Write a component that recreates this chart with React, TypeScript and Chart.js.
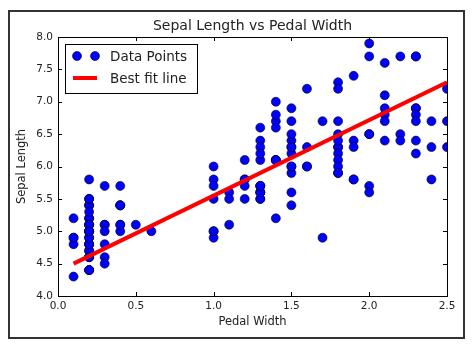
import React, { useEffect, useRef } from "react";
import { Chart, registerables } from "chart.js";

Chart.register(...registerables);

const titleText = "Sepal Length vs Pedal Width";
const xLabel = "Pedal Width";
const yLabel = "Sepal Length";
const legendLabels = ["Data Points", "Best fit line"];

// Petal width (x) of each sample
const petalWidth = [
  0.2, 0.2, 0.2, 0.2, 0.2, 0.4, 0.3, 0.2, 0.2, 0.1, 0.2, 0.2, 0.1, 0.1, 0.2, 0.4, 0.4, 0.3, 0.3, 0.3,
  0.2, 0.4, 0.2, 0.5, 0.2, 0.2, 0.4, 0.2, 0.2, 0.2, 0.2, 0.4, 0.1, 0.2, 0.2, 0.2, 0.2, 0.1, 0.2, 0.2,
  0.3, 0.3, 0.2, 0.6, 0.4, 0.3, 0.2, 0.2, 0.2, 0.2,
  1.4, 1.5, 1.5, 1.3, 1.5, 1.3, 1.6, 1.0, 1.3, 1.4, 1.0, 1.5, 1.0, 1.4, 1.3, 1.4, 1.5, 1.0, 1.5, 1.1,
  1.8, 1.3, 1.5, 1.2, 1.3, 1.4, 1.4, 1.7, 1.5, 1.0, 1.1, 1.0, 1.2, 1.6, 1.5, 1.6, 1.5, 1.3, 1.3, 1.3,
  1.2, 1.4, 1.2, 1.0, 1.3, 1.2, 1.3, 1.3, 1.1, 1.3,
  2.5, 1.9, 2.1, 1.8, 2.2, 2.1, 1.7, 1.8, 1.8, 2.5, 2.0, 1.9, 2.1, 2.0, 2.4, 2.3, 1.8, 2.2, 2.3, 1.5,
  2.3, 2.0, 2.0, 1.8, 2.1, 1.8, 1.8, 1.8, 2.1, 1.6, 1.9, 2.0, 2.2, 1.5, 1.4, 2.3, 2.4, 1.8, 1.8, 2.1,
  2.4, 2.3, 1.9, 2.3, 2.5, 2.3, 1.9, 2.0, 2.3, 1.8,
];

// Sepal length (y) of each sample
const sepalLength = [
  5.1, 4.9, 4.7, 4.6, 5.0, 5.4, 4.6, 5.0, 4.4, 4.9, 5.4, 4.8, 4.8, 4.3, 5.8, 5.7, 5.4, 5.1, 5.7, 5.1,
  5.4, 5.1, 4.6, 5.1, 4.8, 5.0, 5.0, 5.2, 5.2, 4.7, 4.8, 5.4, 5.2, 5.5, 4.9, 5.0, 5.5, 4.9, 4.4, 5.1,
  5.0, 4.5, 4.4, 5.0, 5.1, 4.8, 5.1, 4.6, 5.3, 5.0,
  7.0, 6.4, 6.9, 5.5, 6.5, 5.7, 6.3, 4.9, 6.6, 5.2, 5.0, 5.9, 6.0, 6.1, 5.6, 6.7, 5.6, 5.8, 6.2, 5.6,
  5.9, 6.1, 6.3, 6.1, 6.4, 6.6, 6.8, 6.7, 6.0, 5.7, 5.5, 5.5, 5.8, 6.0, 5.4, 6.0, 6.7, 6.3, 5.6, 5.5,
  5.5, 6.1, 5.8, 5.0, 5.6, 5.7, 5.7, 6.2, 5.1, 5.7,
  6.3, 5.8, 7.1, 6.3, 6.5, 7.6, 4.9, 7.3, 6.7, 7.2, 6.5, 6.4, 6.8, 5.7, 5.8, 6.4, 6.5, 7.7, 7.7, 6.0,
  6.9, 5.6, 7.7, 6.3, 6.7, 7.2, 6.2, 6.1, 6.4, 7.2, 7.4, 7.9, 6.4, 6.3, 6.1, 7.7, 6.3, 6.4, 6.0, 6.9,
  6.7, 6.9, 5.8, 6.8, 6.7, 6.7, 6.3, 6.5, 6.2, 5.9,
];

// Best-fit line end points
const fitX = [0.1, 2.5];
const fitY = [4.5, 7.3];

const xTicks = [0, 0.5, 1.0, 1.5, 2.0, 2.5];
const yTicks = [4.0, 4.5, 5.0, 5.5, 6.0, 6.5, 7.0, 7.5, 8.0];

const FONT = "'DejaVu Sans', sans-serif";
const POINT_COLOR = "#0000ff";
const LINE_COLOR = "#ff0000";

const decorPlugin = {
  id: "decor",
  beforeDraw(chart: any) {
    const ctx = chart.ctx;
    ctx.save();
    ctx.fillStyle = "#ffffff";
    ctx.fillRect(0, 0, chart.width, chart.height);
    ctx.restore();
  },
  afterDraw(chart: any) {
    const ctx = chart.ctx;
    const a = chart.chartArea;
    const xs = chart.scales.x;
    const ys = chart.scales.y;
    ctx.save();
    // outer frame
    ctx.strokeStyle = "#333333";
    ctx.lineWidth = 2;
    ctx.strokeRect(9, 11, 455, 327);
    // axes box
    ctx.strokeStyle = "#000000";
    ctx.lineWidth = 1;
    ctx.strokeRect(Math.round(a.left) + 0.5, Math.round(a.top) + 0.5, Math.round(a.right - a.left), Math.round(a.bottom - a.top));
    // inward ticks
    const tl = 4;
    ctx.beginPath();
    xTicks.forEach((v) => {
      const px = Math.round(xs.getPixelForValue(v)) + 0.5;
      ctx.moveTo(px, a.bottom);
      ctx.lineTo(px, a.bottom - tl);
      ctx.moveTo(px, a.top);
      ctx.lineTo(px, a.top + tl);
    });
    yTicks.forEach((v) => {
      const py = Math.round(ys.getPixelForValue(v)) + 0.5;
      ctx.moveTo(a.left, py);
      ctx.lineTo(a.left + tl, py);
      ctx.moveTo(a.right, py);
      ctx.lineTo(a.right - tl, py);
    });
    ctx.stroke();
    // title
    ctx.fillStyle = "#222222";
    ctx.font = `14px ${FONT}`;
    ctx.textAlign = "center";
    ctx.textBaseline = "middle";
    ctx.fillText(titleText, (a.left + a.right) / 2, 26);
    // legend
    const lx = a.left + 7;
    const ly = a.top + 7;
    const lw = 132;
    const lh = 49;
    ctx.fillStyle = "#ffffff";
    ctx.fillRect(lx, ly, lw, lh);
    ctx.strokeStyle = "#000000";
    ctx.lineWidth = 1;
    ctx.strokeRect(lx + 0.5, ly + 0.5, lw, lh);
    const row1 = ly + 12;
    const row2 = ly + 34;
    [lx + 12, lx + 30].forEach((cx) => {
      ctx.beginPath();
      ctx.arc(cx, row1, 4.5, 0, Math.PI * 2);
      ctx.fillStyle = POINT_COLOR;
      ctx.fill();
      ctx.strokeStyle = "#000000";
      ctx.lineWidth = 0.6;
      ctx.stroke();
    });
    ctx.beginPath();
    ctx.moveTo(lx + 8, row2);
    ctx.lineTo(lx + 32, row2);
    ctx.strokeStyle = LINE_COLOR;
    ctx.lineWidth = 4;
    ctx.stroke();
    ctx.fillStyle = "#222222";
    ctx.font = `13.5px ${FONT}`;
    ctx.textAlign = "left";
    ctx.textBaseline = "middle";
    ctx.fillText(legendLabels[0], lx + 45, row1 + 1);
    ctx.fillText(legendLabels[1], lx + 45, row2 + 1);
    ctx.restore();
  },
};

export default function App() {
  const ref = useRef<HTMLCanvasElement | null>(null);

  useEffect(() => {
    if (!ref.current) return;
    const points = petalWidth.map((x, i) => ({ x, y: sepalLength[i] }));
    const fit = fitX.map((x, i) => ({ x, y: fitY[i] }));
    const chart = new Chart(ref.current, {
      type: "scatter",
      data: {
        datasets: [
          {
            type: "line",
            label: legendLabels[1],
            data: fit,
            borderColor: LINE_COLOR,
            borderWidth: 4,
            pointRadius: 0,
            showLine: true,
            fill: false,
            order: 0,
            clip: 0,
          } as any,
          {
            label: legendLabels[0],
            data: points,
            backgroundColor: POINT_COLOR,
            borderColor: "#000000",
            borderWidth: 0.6,
            pointRadius: 4.5,
            pointHoverRadius: 4.5,
            order: 1,
            clip: 0,
          },
        ],
      },
      options: {
        animation: false,
        responsive: false,
        maintainAspectRatio: false,
        events: [],
        layout: { padding: { left: 14, right: 27, top: 37, bottom: 14 } },
        plugins: {
          legend: { display: false },
          title: { display: false },
          tooltip: { enabled: false },
        },
        scales: {
          x: {
            type: "linear",
            min: 0,
            max: 2.5,
            afterBuildTicks: (s: any) => {
              s.ticks = xTicks.map((v) => ({ value: v }));
            },
            afterFit: (s: any) => {
              s.height = 41;
            },
            grid: { display: false, drawTicks: false },
            border: { display: false },
            ticks: {
              padding: 4,
              color: "#222222",
              font: { family: FONT, size: 10.5 },
              callback: (v: any) => Number(v).toFixed(1),
              maxRotation: 0,
            },
            title: {
              display: true,
              text: xLabel,
              color: "#222222",
              font: { family: FONT, size: 11.5 },
              padding: { top: 0, bottom: 8 },
            },
          },
          y: {
            type: "linear",
            min: 4,
            max: 8,
            afterBuildTicks: (s: any) => {
              s.ticks = yTicks.map((v) => ({ value: v }));
            },
            afterFit: (s: any) => {
              s.width = 44;
            },
            grid: { display: false, drawTicks: false },
            border: { display: false },
            ticks: {
              padding: 5,
              color: "#222222",
              font: { family: FONT, size: 10.5 },
              callback: (v: any) => Number(v).toFixed(1),
            },
            title: {
              display: true,
              text: yLabel,
              color: "#222222",
              font: { family: FONT, size: 11.5 },
              padding: { top: 1, bottom: 0 },
            },
          },
        },
      },
      plugins: [decorPlugin],
    });
    return () => chart.destroy();
  }, []);

  return (
    <div style={{ position: "fixed", left: 0, top: 0, width: 474, height: 351, background: "#fff" }}>
      <canvas ref={ref} width={474} height={351} style={{ width: 474, height: 351, display: "block" }} />
    </div>
  );
}
